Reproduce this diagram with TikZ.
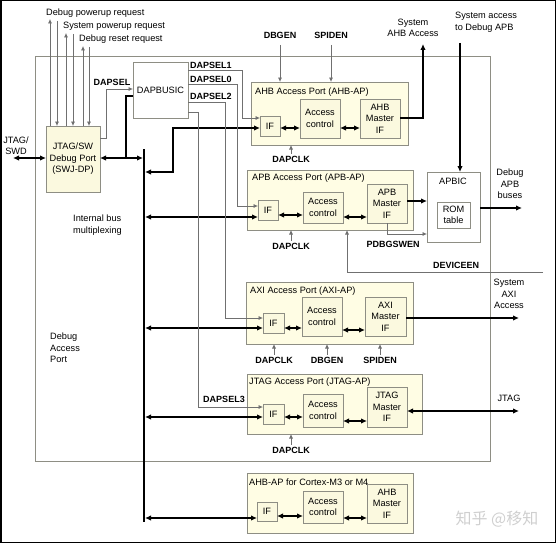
\documentclass[tikz,border=0pt]{standalone}
\usepackage{fontspec}
\setmainfont{Liberation Sans}
\newfontfamily\cjkfont{Noto Sans CJK SC}
\usetikzlibrary{arrows.meta}
\definecolor{cream}{HTML}{FFFDE4}
\definecolor{creamin}{HTML}{FBF9DF}
\definecolor{bord}{HTML}{8E8E84}
\definecolor{lg}{HTML}{707070}
\definecolor{wm}{HTML}{CFCFCF}
\newcommand\mkbox[7]{\node[#6,minimum width={(#4)-(#2)},minimum height={(#5)-(#3)}] (#1) at ({((#2)+(#4))/2},{((#3)+(#5))/2}) {#7};}
\begin{document}
\begin{tikzpicture}[x=1pt,y=-1pt,
  font=\fontsize{9.2}{11.5}\selectfont,
  basebox/.style={inner sep=0pt,outer sep=0pt,line width=0.8pt},
  obox/.style={basebox,draw=bord},
  apbox/.style={basebox,draw=bord,fill=cream},
  inbox/.style={basebox,draw=bord,fill=creamin,align=center},
  wbox/.style={basebox,draw=bord,fill=white,align=center},
  ttl/.style={anchor=west,inner sep=0pt},
  lab/.style={inner sep=1pt,font=\fontsize{9}{11}\selectfont\bfseries},
  txt/.style={inner sep=0pt,align=center},
  thinln/.style={draw=lg,line width=0.7pt},
  thinarr/.style={thinln,-{Latex[length=4.5pt,width=4pt]}},
  thk/.style={line width=1.6pt,{Latex[length=6pt,width=5.5pt]}-{Latex[length=6pt,width=5.5pt]}},
  thkr/.style={line width=1.6pt,-{Latex[length=6pt,width=5.5pt]}},
  thkline/.style={line width=1.6pt}]
\useasboundingbox (0,0) rectangle (556,543);
\draw[line width=1.5pt] (0.75,0.75) rectangle (555.25,542.25);

% outer debug access port box
\mkbox{outer}{35}{56}{490}{461}{obox}{}
\node[txt,anchor=west,align=left] (dapl) at (50,348) {Debug\\Access\\Port};
\node[txt,anchor=west,align=left] (ibm) at (73,225) {Internal bus\\multiplexing};

% top request labels
\node[ttl] (r1) at (46,13) {Debug powerup request};
\node[ttl] (r2) at (63,26) {System powerup request};
\node[ttl] (r3) at (79,39) {Debug reset request};

% SWJ-DP
\mkbox{dp}{46}{126}{100}{192}{inbox}{JTAG/SW\\Debug Port\\(SWJ-DP)}
\node[txt] (swd) at (16,145.5) {JTAG/\\SWD};
\draw[thinarr] ([xshift=4pt]dp.north west) -- ++(0,-107);
\draw[thinarr] ([xshift=11pt]dp.north west) ++(0,-105) -- ([xshift=11pt]dp.north west);
\draw[thinarr] ([xshift=20pt]dp.north west) -- ++(0,-93);
\draw[thinarr] ([xshift=27pt]dp.north west) ++(0,-92) -- ([xshift=27pt]dp.north west);
\draw[thinarr] ([xshift=37pt]dp.north west) -- ++(0,-80);
\draw[thinarr] ([xshift=43pt]dp.north west) ++(0,-79) -- ([xshift=43pt]dp.north west);
\draw[thk] (13,158) -- (dp.west |- 0,158);

% DAPBUSIC
\mkbox{busic}{133}{62}{188}{118}{wbox}{DAPBUSIC}
\node[lab] (dapsel) at (112,82) {DAPSEL};
\draw[thinarr] (dp.east |- 0,138) -- (106,138) |- (busic.west |- 0,89);
\coordinate (br) at (126,158);
\draw[thkline] (br) |- (busic.west |- 0,96);

% internal bus
\coordinate (bustop) at (144,149);
\coordinate (busbot) at (144,522);
\draw[thkline] (bustop) -- (busbot);
\draw[thk] (dp.east |- 0,158) -- (143,158);

% DAPSEL labels
\node[lab,anchor=west] (ds1) at (189,65) {DAPSEL1};
\node[lab,anchor=west] (ds0) at (189,79) {DAPSEL0};
\node[lab,anchor=west] (ds2) at (189,96) {DAPSEL2};
\node[lab] (ds3) at (224,399) {DAPSEL3};

% ---------------- AHB-AP ----------------
\mkbox{ahb}{251}{82}{408}{145}{apbox}{}
\node[ttl] (ahbt) at (255,92) {AHB Access Port (AHB-AP)};
\mkbox{ahbif}{260}{116}{280}{136}{inbox}{IF}
\mkbox{ahbac}{300}{99}{340}{138}{inbox}{Access\\control}
\mkbox{ahbm}{360}{99}{400}{138}{inbox}{AHB\\Master\\IF}
\draw[thk] (ahbif.east |- 0,128) -- (ahbac.west |- 0,128);
\draw[thk] (ahbac.east |- 0,128) -- (ahbm.west |- 0,128);
\draw[thk] (145,172) -| (173,128) -- (ahbif.west |- 0,128);
\draw[thinarr] (busic.east |- 0,70) -| (242,118) -- (ahbif.west |- 0,118);
\node[lab] (dbg1) at (280,35) {DBGEN};
\node[lab] (spi1) at (331,35) {SPIDEN};
\draw[thinarr] (280,45) -- (ahb.north -| 280,0);
\draw[thinarr] (331,45) -- (ahb.north -| 331,0);
\node[lab] (clk1) at (291,159) {DAPCLK};
\draw[thinarr] (clk1.north) ++(0,-1) -- (ahb.south -| clk1.north);
\node[txt] (sahb) at (413,28) {System\\AHB Access};
\draw[thkr] (ahbm.east |- 0,118) -| (423,44);

% ---------------- APB-AP ----------------
\mkbox{apb}{247}{170}{413}{230}{apbox}{}
\node[ttl] (apbt) at (252,178) {APB Access Port (APB-AP)};
\mkbox{apbif}{258}{200}{278}{220}{inbox}{IF}
\mkbox{apbac}{303}{192}{343}{223}{inbox}{Access\\control}
\mkbox{apbm}{367}{184}{407}{223}{inbox}{APB\\Master\\IF}
\draw[thk] (apbif.east |- 0,215) -- (apbac.west |- 0,215);
\draw[thk] (apbac.east |- 0,217) -- (apbm.west |- 0,217);
\draw[thk] (145,217) -- (apbif.west |- 0,217);
\draw[thinarr] (busic.east |- 0,84) -| (237,206) -- (apbif.west |- 0,206);
\node[lab] (clk2) at (291,246) {DAPCLK};
\draw[thinarr] (clk2.north) ++(0,-1) -- (apb.south -| clk2.north);
\node[lab] (pdbg) at (393,244) {PDBGSWEN};

% APBIC
\mkbox{apbic}{427}{172}{480}{242}{wbox}{}
\node[txt] (apbict) at (453,181) {APBIC};
\mkbox{rom}{437}{202}{470}{228}{wbox}{ROM\\table}
\draw[thkr] (apbm.east |- 0,201) -- (apbic.west |- 0,201);
\draw[thinarr] (apbm.south) |- (apbic.west |- 0,234);
\node[ttl,align=left] (sadbg) at (455,22) {System access\\to Debug APB};
\draw[thkr] (460,43) -- (apbic.north -| 460,0);
\node[txt] (dapbb) at (510,184) {Debug\\APB\\buses};
\draw[thkr] (apbic.east |- 0,208) -- (522,208);
\node[lab] (devl) at (456,265) {DEVICEEN};
\draw[thinarr] (543,272) -| (apb.south -| 347,0);

% ---------------- AXI-AP ----------------
\mkbox{axi}{246}{282}{413}{344}{apbox}{}
\node[ttl] (axit) at (250,291) {AXI Access Port (AXI-AP)};
\mkbox{axiif}{263}{313}{284}{333}{inbox}{IF}
\mkbox{axiac}{302}{297}{342}{336}{inbox}{Access\\control}
\mkbox{axim}{365}{297}{406}{336}{inbox}{AXI\\Master\\IF}
\draw[thk] (axiif.east |- 0,328) -- (axiac.west |- 0,328);
\draw[thk] (axiac.east |- 0,330) -- (axim.west |- 0,330);
\draw[thk] (145,328) -- (axiif.west |- 0,328);
\draw[thinarr] (busic.east |- 0,102) -| (225,318) -- (axiif.west |- 0,318);
\node[lab] (clk3) at (274,360) {DAPCLK};
\node[lab] (dbg3) at (327,360) {DBGEN};
\node[lab] (spi3) at (380,360) {SPIDEN};
\draw[thinarr] (clk3.north) ++(0,-1) -- (axi.south -| clk3.north);
\draw[thinarr] (dbg3.north) ++(0,-1) -- (axi.south -| dbg3.north);
\draw[thinarr] (spi3.north) ++(0,-1) -- (axi.south -| spi3.north);
\node[txt] (saxi) at (509,294) {System\\AXI\\Access};
\draw[thkr] (axim.east |- 0,318) -- (519,318);

% ---------------- JTAG-AP ----------------
\mkbox{jtag}{247}{374}{422}{434}{apbox}{}
\node[ttl] (jtagt) at (249,382) {JTAG Access Port (JTAG-AP)};
\mkbox{jtagif}{263}{404}{284}{424}{inbox}{IF}
\mkbox{jtagac}{303}{394}{343}{427}{inbox}{Access\\control}
\mkbox{jtagm}{367}{387}{407}{427}{inbox}{JTAG\\Master\\IF}
\draw[thk] (jtagif.east |- 0,417) -- (jtagac.west |- 0,417);
\draw[thk] (jtagac.east |- 0,421) -- (jtagm.west |- 0,421);
\draw[thk] (145,417) -- (jtagif.west |- 0,417);
\draw[thinarr] (busic.east |- 0,112) -| (198,407) -- (jtagif.west |- 0,407);
\node[lab] (clk4) at (291,450) {DAPCLK};
\draw[thinarr] (clk4.north) ++(0,-1) -- (jtag.south -| clk4.north);
\node[txt] (jtagl) at (509,398) {JTAG};
\draw[thk] (jtagm.east |- 0,411) -- (519,411);

% ---------------- AHB-AP for Cortex-M3/M4 ----------------
\mkbox{m3}{247}{473}{413}{533}{apbox}{}
\node[ttl] (m3t) at (249,482) {AHB-AP for Cortex-M3 or M4};
\mkbox{m3if}{257}{502}{277}{521}{inbox}{IF}
\mkbox{m3ac}{303}{491}{343}{523}{inbox}{Access\\control}
\mkbox{m3m}{367}{484}{407}{523}{inbox}{AHB\\Master\\IF}
\draw[thk] (m3if.east |- 0,516) -- (m3ac.west |- 0,516);
\draw[thk] (m3ac.east |- 0,518) -- (m3m.west |- 0,518);
\draw[thk] (145,518) -- (m3if.west |- 0,518);

% watermark
\node[inner sep=0pt,text=wm,font=\cjkfont\fontsize{16}{16}\selectfont] (wmk) at (497,519) {知乎 @移知};
\end{tikzpicture}
\end{document}
